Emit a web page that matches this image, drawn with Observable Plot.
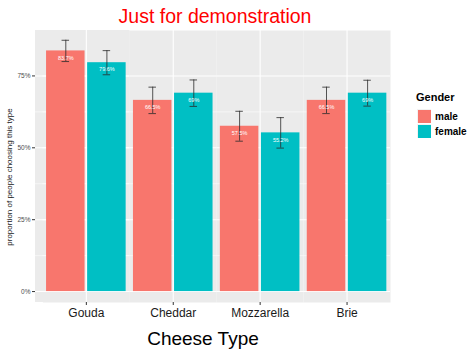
<!DOCTYPE html>
<html><head><meta charset="utf-8">
<script src="https://cdn.jsdelivr.net/npm/d3@7"></script>
<script src="https://cdn.jsdelivr.net/npm/@observablehq/plot@0.6"></script>
<style>
body{margin:0;background:#fff;font-family:"Liberation Sans",Arial,sans-serif;}
#c{position:relative;width:474px;height:357px;overflow:hidden}
.abs{position:absolute;white-space:nowrap;line-height:1}
</style>
</head><body><div id="c"></div>
<script>
const cheeses = ["Gouda", "Cheddar", "Mozzarella", "Brie"];
const genders = ["male", "female"];
const colors = ["#F8766D", "#00BFC4"];
const maleValues = [83.7, 66.5, 57.5, 66.5];
const femaleValues = [79.6, 69, 55.2, 69];
const maleErr = [3.7, 4.6, 5.2, 4.6];
const femaleErr = [4.2, 4.6, 5.3, 4.5];
const yTicks = [0, 25, 50, 75];
const yMinor = [12.5, 37.5, 62.5];
const title = "Just for demonstration";
const xTitle = "Cheese Type";
const yTitle = "proportion of people choosing this type";
const legendTitle = "Gender";

const data = [];
cheeses.forEach((c, i) => {
  data.push({cheese: c, gender: "male", value: maleValues[i], err: maleErr[i]});
  data.push({cheese: c, gender: "female", value: femaleValues[i], err: femaleErr[i]});
});
data.forEach(d => { d.lo = d.value - d.err; d.hi = d.value + d.err; d.label = d.value + "%"; });

const ext = 7.4; // left panel expansion (px) in first facet
const first = cheeses[0];
const majorFirst = yTicks.map(v => ({cheese: first, v}));
const minorFirst = yMinor.map(v => ({cheese: first, v}));

const plot = Plot.plot({
  width: 474, height: 357,
  marginTop: 30, marginBottom: 55, marginLeft: 35 + ext, marginRight: 84,
  style: {fontFamily: "Liberation Sans, Arial, sans-serif", background: "transparent"},
  fx: {domain: cheeses, paddingInner: 0, paddingOuter: 0, round: false, label: null},
  x: {domain: genders, paddingInner: 0.063, paddingOuter: 0.089, round: false, axis: null},
  y: {domain: [-3.8, 90.8], axis: null},
  color: {domain: genders, range: colors},
  marks: [
    Plot.frame({fill: "#EBEBEB", stroke: null}),
    Plot.rect([{cheese: first}], {fx: "cheese", fill: "#EBEBEB", insetLeft: -ext}),
    Plot.ruleY(yMinor, {stroke: "white", strokeWidth: 0.55}),
    Plot.ruleY(minorFirst, {fx: "cheese", y: "v", stroke: "white", strokeWidth: 0.55, insetLeft: -ext}),
    Plot.ruleY(yTicks, {stroke: "white", strokeWidth: 1.1}),
    Plot.ruleY(majorFirst, {fx: "cheese", y: "v", stroke: "white", strokeWidth: 1.1, insetLeft: -ext}),
    Plot.gridFx({stroke: "white", strokeOpacity: 1, strokeWidth: 1.1}),
    Plot.axisY({ticks: yTicks, tickFormat: d => d + "%", tickSize: 3, tickPadding: 2, fontSize: 6.5, color: "#4D4D4D", stroke: "#333", label: null, anchor: "left", dx: -ext}),
    Plot.axisFx({anchor: "bottom", tickSize: 3, tickPadding: 3, fontSize: 12, color: "#1a1a1a", stroke: "#333", label: null}),
    Plot.barY(data, {fx: "cheese", x: "gender", y: "value", fill: "gender"}),
    Plot.ruleX(data, {fx: "cheese", x: "gender", y1: "lo", y2: "hi", stroke: "#2b2b2b", strokeWidth: 0.8}),
    Plot.tickY(data, {fx: "cheese", x: "gender", y: "lo", stroke: "#2b2b2b", strokeWidth: 0.8, insetLeft: 15.5, insetRight: 15.5}),
    Plot.tickY(data, {fx: "cheese", x: "gender", y: "hi", stroke: "#2b2b2b", strokeWidth: 0.8, insetLeft: 15.5, insetRight: 15.5}),
    Plot.text(data, {fx: "cheese", x: "gender", y: "value", text: "label", fill: "white", fontSize: 5.5, dy: 7})
  ]
});

const c = document.getElementById("c");
c.appendChild(plot);

function addText(txt, css) {
  const d = document.createElement("div");
  d.className = "abs";
  d.textContent = txt;
  Object.assign(d.style, css);
  c.appendChild(d);
  return d;
}
addText(title, {left: "215px", top: "7px", transform: "translateX(-50%)", fontSize: "19.5px", color: "#FF0000"});
addText(xTitle, {left: "203px", top: "329px", transform: "translateX(-50%)", fontSize: "19px", color: "#000"});
addText(yTitle, {left: "10px", top: "177px", transform: "translate(-50%,-50%) rotate(-90deg)", fontSize: "8px", color: "#1a1a1a"});
addText(legendTitle, {left: "416px", top: "92px", fontSize: "11px", fontWeight: "bold", color: "#000"});
genders.forEach((g, i) => {
  const top = 109 + i * 15;
  const box = document.createElement("div");
  Object.assign(box.style, {position: "absolute", left: "417px", top: top + "px", width: "14px", height: "14px", background: "#F2F2F2"});
  const sw = document.createElement("div");
  Object.assign(sw.style, {position: "absolute", left: "0.5px", top: "0.5px", width: "13px", height: "13px", background: colors[i]});
  box.appendChild(sw);
  c.appendChild(box);
  addText(g, {left: "435px", top: (top + 2.5) + "px", fontSize: "10px", fontWeight: "bold", color: "#000"});
});
</script>
</body></html>
